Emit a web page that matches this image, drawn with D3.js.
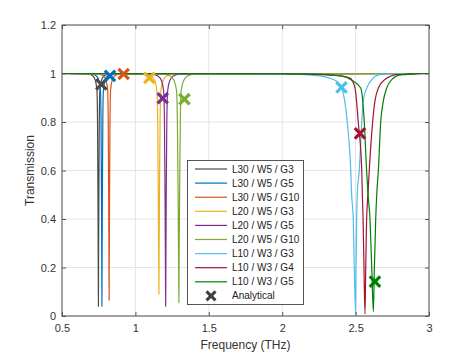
<!DOCTYPE html>
<html>
<head>
<meta charset="utf-8">
<script src="https://cdn.jsdelivr.net/npm/d3@7"></script>
<style>
  html, body { margin: 0; padding: 0; background: #fff; }
  svg { display: block; font-family: Arial, "Liberation Sans", Helvetica, sans-serif; }
</style>
</head>
<body>
<svg id="chart" width="474" height="355"></svg>
<script>
// ---------------- DATA ----------------
const xTicks = [0.5, 1, 1.5, 2, 2.5, 3];
const xTickLabels = ["0.5", "1", "1.5", "2", "2.5", "3"];
const yTicks = [0, 0.2, 0.4, 0.6, 0.8, 1, 1.2];
const yTickLabels = ["0", "0.2", "0.4", "0.6", "0.8", "1", "1.2"];

const seriesNames = ["L30 / W5 / G3", "L30 / W5 / G5", "L30 / W5 / G10",
                     "L20 / W5 / G3", "L20 / W5 / G5", "L20 / W5 / G10",
                     "L10 / W3 / G3", "L10 / W3 / G4", "L10 / W3 / G5"];

const freqL30G3  = [0.5, 0.681, 0.711, 0.728, 0.738, 0.742, 0.745, 0.747, 0.748, 0.749, 0.751, 0.754, 0.758, 0.768, 0.785, 0.815, 3];
const transL30G3 = [1, 0.997, 0.99, 0.97, 0.93, 0.8, 0.5, 0.2, 0.04, 0.2, 0.5, 0.8, 0.93, 0.97, 0.99, 0.997, 1];

const freqL30G5  = [0.5, 0.705, 0.735, 0.752, 0.762, 0.766, 0.769, 0.771, 0.772, 0.773, 0.775, 0.778, 0.782, 0.792, 0.809, 0.839, 3];
const transL30G5 = [1, 0.997, 0.99, 0.97, 0.93, 0.8, 0.5, 0.2, 0.04, 0.2, 0.5, 0.8, 0.93, 0.97, 0.99, 0.997, 1];

const freqL30G10  = [0.5, 0.754, 0.784, 0.801, 0.811, 0.815, 0.818, 0.820, 0.821, 0.822, 0.824, 0.827, 0.831, 0.841, 0.858, 0.888, 3];
const transL30G10 = [1, 0.997, 0.99, 0.97, 0.93, 0.8, 0.5, 0.22, 0.065, 0.22, 0.5, 0.8, 0.93, 0.97, 0.99, 0.997, 1];

const freqL20G3  = [0.5, 1.066, 1.108, 1.132, 1.146, 1.152, 1.156, 1.1586, 1.160, 1.1614, 1.164, 1.168, 1.174, 1.188, 1.212, 1.254, 3];
const transL20G3 = [1, 0.997, 0.99, 0.97, 0.93, 0.8, 0.5, 0.25, 0.09, 0.25, 0.5, 0.8, 0.93, 0.97, 0.99, 0.997, 1];

const freqL20G5  = [0.5, 1.112, 1.154, 1.178, 1.192, 1.198, 1.202, 1.2046, 1.206, 1.2074, 1.210, 1.214, 1.220, 1.234, 1.258, 1.300, 3];
const transL20G5 = [1, 0.997, 0.99, 0.97, 0.93, 0.8, 0.5, 0.2, 0.04, 0.2, 0.5, 0.8, 0.93, 0.97, 0.99, 0.997, 1];

const freqL20G10  = [0.5, 1.189, 1.237, 1.264, 1.280, 1.286, 1.291, 1.2944, 1.296, 1.2976, 1.301, 1.306, 1.312, 1.328, 1.355, 1.403, 3];
const transL20G10 = [1, 0.997, 0.99, 0.97, 0.93, 0.8, 0.5, 0.21, 0.055, 0.21, 0.5, 0.8, 0.93, 0.97, 0.99, 0.997, 1];

const freqL10G3  = [0.5, 2.0, 2.2, 2.30, 2.371, 2.405, 2.443, 2.467, 2.473, 2.484, 2.491, 2.500, 2.503, 2.507, 2.511, 2.525, 2.542, 2.552, 2.576, 2.61, 2.666, 2.8, 3];
const transL10G3 = [1, 0.998, 0.993, 0.985, 0.968, 0.94, 0.8, 0.6, 0.5, 0.4, 0.2, 0.008, 0.2, 0.4, 0.5, 0.6, 0.8, 0.887, 0.94, 0.975, 0.995, 0.999, 1];

const freqL10G4  = [0.5, 2.0, 2.2, 2.40, 2.462, 2.496, 2.518, 2.542, 2.546, 2.551, 2.557, 2.564, 2.569, 2.575, 2.584, 2.593, 2.616, 2.632, 2.655, 2.70, 2.78, 2.9, 3];
const transL10G4 = [1, 0.999, 0.997, 0.99, 0.981, 0.94, 0.8, 0.6, 0.5, 0.4, 0.2, 0.008, 0.2, 0.4, 0.5, 0.6, 0.8, 0.887, 0.94, 0.975, 0.995, 0.999, 1];

const freqL10G5  = [0.5, 2.0, 2.2, 2.40, 2.48, 2.535, 2.559, 2.575, 2.585, 2.598, 2.61, 2.621, 2.628, 2.637, 2.644, 2.655, 2.671, 2.689, 2.712, 2.746, 2.814, 2.92, 3];
const transL10G5 = [1, 0.999, 0.998, 0.99, 0.97, 0.94, 0.8, 0.6, 0.5, 0.4, 0.2, 0.018, 0.2, 0.4, 0.5, 0.6, 0.8, 0.887, 0.94, 0.975, 0.995, 0.999, 1];

// Analytical resonance points (crosses), one per series
const analyticalFreq  = [0.768, 0.827, 0.920, 1.095, 1.186, 1.334, 2.404, 2.530, 2.632];
const analyticalTrans = [0.955, 0.990, 0.998, 0.982, 0.898, 0.894, 0.943, 0.753, 0.142];
const analyticalName = "Analytical";

const xLabel = "Frequency (THz)";
const yLabel = "Transmission";

// ---------------- STYLE ----------------
const colors = ["#4a4a4a", "#0072BD", "#D95319", "#EDB120", "#7E2F8E",
                "#77AC30", "#4DBEEE", "#A2142F", "#008000"];
const analyticalColor = "#404040";

const freqs = [freqL30G3, freqL30G5, freqL30G10, freqL20G3, freqL20G5, freqL20G10, freqL10G3, freqL10G4, freqL10G5];
const trans = [transL30G3, transL30G5, transL30G10, transL20G3, transL20G5, transL20G10, transL10G3, transL10G4, transL10G5];

const svg = d3.select("#chart");
const L = 62, R = 429, T = 25, B = 316;

const x = d3.scaleLinear().domain([0.5, 3]).range([L, R]);
const y = d3.scaleLinear().domain([0, 1.2]).range([B, T]);

// grid
const grid = svg.append("g");
grid.selectAll("line.gx").data(xTicks).enter().append("line")
  .attr("x1", d => x(d)).attr("x2", d => x(d)).attr("y1", T).attr("y2", B)
  .attr("stroke", "#e4e4e4").attr("stroke-width", 1);
grid.selectAll("line.gy").data(yTicks).enter().append("line")
  .attr("x1", L).attr("x2", R).attr("y1", d => y(d)).attr("y2", d => y(d))
  .attr("stroke", "#e4e4e4").attr("stroke-width", 1);

// clip
svg.append("clipPath").attr("id", "clip").append("rect")
  .attr("x", L).attr("y", T).attr("width", R - L).attr("height", B - T);

const line = d3.line().x(d => x(d[0])).y(d => y(d[1])).curve(d3.curveMonotoneX);

const plot = svg.append("g").attr("clip-path", "url(#clip)");
freqs.forEach((fa, i) => {
  const pts = fa.map((f, j) => [f, trans[i][j]]);
  plot.append("path").datum(pts)
    .attr("d", line)
    .attr("fill", "none")
    .attr("stroke", colors[i])
    .attr("stroke-width", 1.2);
});

// crosses
function cross(g, cx, cy, s, color, w) {
  g.append("path")
    .attr("d", `M${cx - s},${cy - s}L${cx + s},${cy + s}M${cx - s},${cy + s}L${cx + s},${cy - s}`)
    .attr("stroke", color).attr("stroke-width", w).attr("fill", "none")
    .attr("stroke-linecap", "butt");
}
const cg = svg.append("g");
analyticalFreq.forEach((f, i) => {
  cross(cg, x(f), y(analyticalTrans[i]), 5.2, colors[i], 3.2);
});

// axes
const axisColor = "#555";
const textColor = "#333";
const xAxis = svg.append("g").attr("transform", `translate(0,${B})`)
  .call(d3.axisBottom(x).tickValues(xTicks).tickFormat((d, i) => xTickLabels[i]).tickSize(-4).tickPadding(8));
const yAxis = svg.append("g").attr("transform", `translate(${L},0)`)
  .call(d3.axisLeft(y).tickValues(yTicks).tickFormat((d, i) => yTickLabels[i]).tickSize(-4).tickPadding(6));
const xTop = svg.append("g").attr("transform", `translate(0,${T})`)
  .call(d3.axisTop(x).tickValues(xTicks).tickFormat("").tickSize(-4));
const yRight = svg.append("g").attr("transform", `translate(${R},0)`)
  .call(d3.axisRight(y).tickValues(yTicks).tickFormat("").tickSize(-4));
[xAxis, yAxis, xTop, yRight].forEach(a => {
  a.select(".domain").remove();
  a.selectAll(".tick line").attr("stroke", axisColor);
  a.selectAll(".tick text").attr("fill", textColor).attr("font-size", 11)
    .attr("font-family", "Arial, 'Liberation Sans', sans-serif");
});
svg.append("rect").attr("x", L).attr("y", T).attr("width", R - L).attr("height", B - T)
  .attr("fill", "none").attr("stroke", axisColor).attr("stroke-width", 1);

// axis labels
svg.append("text").attr("x", (L + R) / 2).attr("y", 349)
  .attr("text-anchor", "middle").attr("font-size", 12).attr("fill", textColor)
  .text(xLabel);
svg.append("text").attr("transform", `translate(34,${(T + B) / 2}) rotate(-90)`)
  .attr("text-anchor", "middle").attr("font-size", 12).attr("fill", textColor)
  .text(yLabel);

// legend
const lg = svg.append("g");
lg.append("rect").attr("x", 187.5).attr("y", 160.5).attr("width", 116).attr("height", 144)
  .attr("fill", "#fff").attr("stroke", "#555").attr("stroke-width", 1);
const legY0 = 169, legDy = 14.1;
seriesNames.forEach((n, i) => {
  const yy = legY0 + i * legDy;
  lg.append("line").attr("x1", 195).attr("x2", 227).attr("y1", yy).attr("y2", yy)
    .attr("stroke", colors[i]).attr("stroke-width", 1.2);
  lg.append("text").attr("x", 232).attr("y", yy).attr("dy", "0.35em")
    .attr("font-size", 10).attr("fill", "#222").text(n);
});
{
  const yy = legY0 + 9 * legDy;
  cross(lg, 211, yy, 4.5, analyticalColor, 3);
  lg.append("text").attr("x", 232).attr("y", yy).attr("dy", "0.35em")
    .attr("font-size", 10).attr("fill", "#222").text(analyticalName);
}
</script>
</body>
</html>
